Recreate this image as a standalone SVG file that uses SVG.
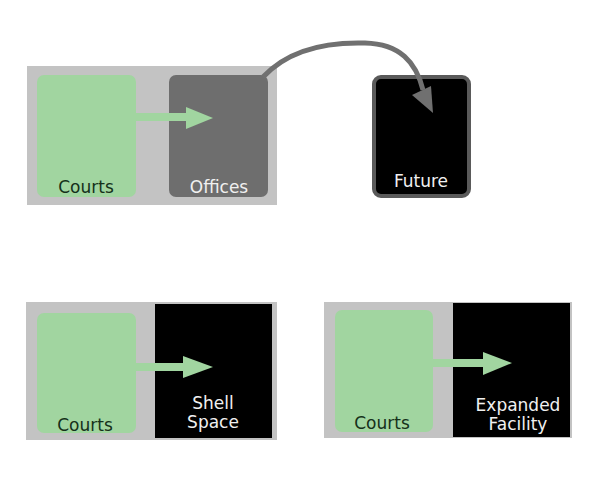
<svg xmlns="http://www.w3.org/2000/svg" width="600" height="480" viewBox="0 0 600 480">
<style>
.bg{fill:#c3c3c3}
.green{fill:#a1d5a0}
.lbl{font-family:"DejaVu Sans",sans-serif;font-size:17px;text-anchor:middle}
.dark{fill:#15301a}
.light{fill:#f0f0f0}
.garrow{fill:#a1d5a0}
</style>
<rect width="600" height="480" fill="#ffffff"/>
<g id="group-top">
  <rect class="bg" x="27" y="66" width="250" height="139"/>
</g>
<g id="courts-top">
  <rect class="green" x="37" y="75" width="99" height="122" rx="7"/>
  <text class="lbl dark" x="86" y="193">Courts</text>
</g>
<g id="offices">
  <rect x="169" y="75" width="99" height="122" rx="7" fill="#6e6e6e"/>
  <text class="lbl light" x="219" y="193">Offices</text>
</g>
<g id="future">
  <rect x="374" y="77" width="95" height="119" rx="7" fill="#000000" stroke="#5a5a5a" stroke-width="4"/>
  <text class="lbl light" x="421" y="187">Future</text>
</g>
<g id="group-shell">
  <rect class="bg" x="26" y="302" width="251" height="138"/>
</g>
<g id="courts-shell">
  <rect class="green" x="37" y="313" width="99" height="120" rx="7"/>
  <text class="lbl dark" x="85" y="431">Courts</text>
</g>
<g id="shell-space">
  <rect x="155" y="304" width="117" height="134" fill="#000000"/>
  <text class="lbl light" x="213" y="409">Shell</text>
  <text class="lbl light" x="213" y="428">Space</text>
</g>
<g id="group-expanded">
  <rect class="bg" x="324" y="302" width="248" height="136"/>
</g>
<g id="courts-expanded">
  <rect class="green" x="335" y="310" width="98" height="122" rx="7"/>
  <text class="lbl dark" x="382" y="429">Courts</text>
</g>
<g id="expanded-facility">
  <rect x="453" y="303" width="117" height="134" fill="#000000"/>
  <text class="lbl light" x="518" y="411">Expanded</text>
  <text class="lbl light" x="518" y="430">Facility</text>
</g>
<g id="connectors">
  <rect class="garrow" x="136" y="113" width="50" height="8"/>
  <polygon class="garrow" points="186,107 213,118 186,129"/>
  <rect class="garrow" x="136" y="363" width="48" height="8"/>
  <polygon class="garrow" points="183,356 213,367 183,378"/>
  <rect class="garrow" x="433" y="359" width="51" height="8"/>
  <polygon class="garrow" points="483,352 512,363 483,375"/>
  <path d="M263,77 C290,48 330,42 365,43 C400,44 416,62 423,90" fill="none" stroke="#707070" stroke-width="5"/>
  <polygon points="412,95 431,86 433,113" fill="#707070"/>
</g>
</svg>
